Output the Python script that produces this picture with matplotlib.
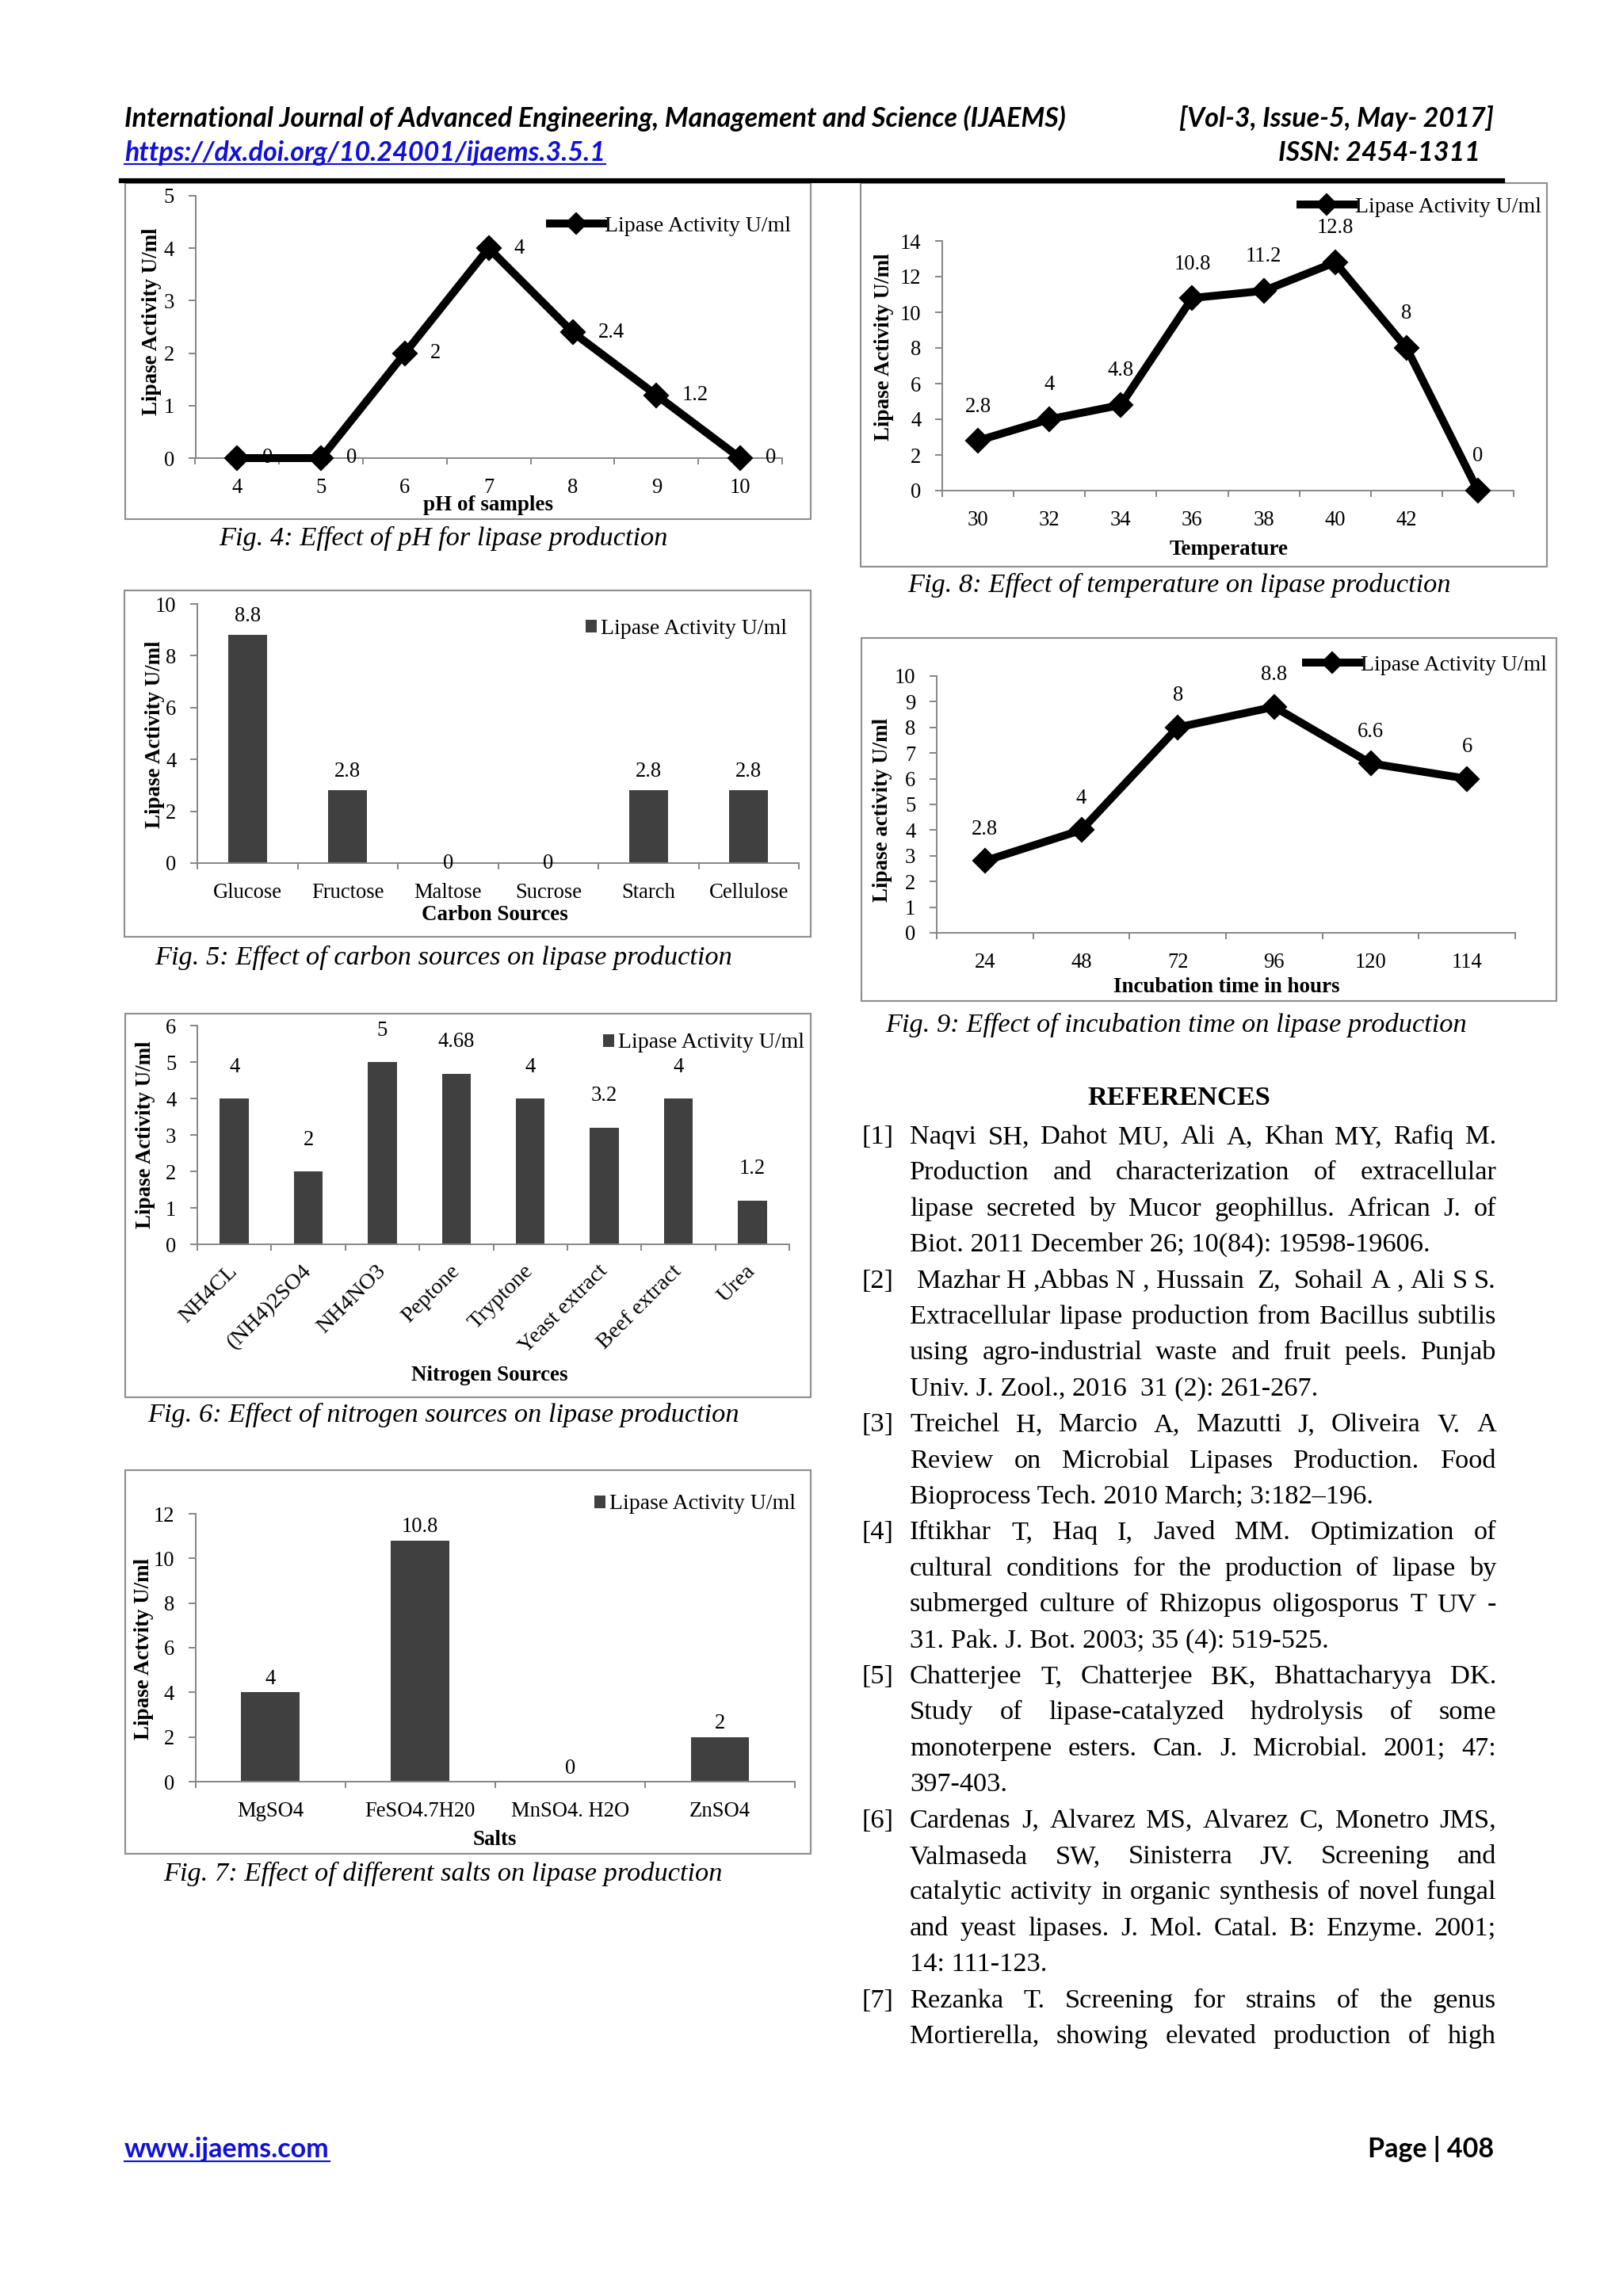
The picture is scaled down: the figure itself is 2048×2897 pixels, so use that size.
import numpy as np
import matplotlib
matplotlib.use("Agg")
import matplotlib.pyplot as plt
from matplotlib.lines import Line2D
from matplotlib.patches import Rectangle
from matplotlib.ticker import FuncFormatter

W, H, DPI = 2048, 2897, 256

# ---- chart data ----
SERIES = "Lipase Activity U/ml"

PH_LEVELS = ["4", "5", "6", "7", "8", "9", "10"]
PH_ACTIVITY = [0, 0, 2, 4, 2.4, 1.2, 0]

CARBON_SOURCES = ["Glucose", "Fructose", "Maltose", "Sucrose", "Starch", "Cellulose"]
CARBON_ACTIVITY = [8.8, 2.8, 0, 0, 2.8, 2.8]

NITROGEN_SOURCES = ["NH4CL", "(NH4)2SO4", "NH4NO3", "Peptone", "Tryptone",
                    "Yeast extract", "Beef extract", "Urea"]
NITROGEN_ACTIVITY = [4, 2, 5, 4.68, 4, 3.2, 4, 1.2]

SALTS = ["MgSO4", "FeSO4.7H20", "MnSO4. H2O", "ZnSO4"]
SALT_ACTIVITY = [4, 10.8, 0, 2]

TEMPERATURES = ["30", "32", "34", "36", "38", "40", "42", ""]
TEMP_ACTIVITY = [2.8, 4, 4.8, 10.8, 11.2, 12.8, 8, 0]

HOURS = ["24", "48", "72", "96", "120", "114"]
HOURS_ACTIVITY = [2.8, 4, 8, 8.8, 6.6, 6]

# ---- page text ----
REFERENCES = [
    ("[1]", ["Naqvi SH, Dahot MU, Ali A, Khan MY, Rafiq M.",
             "Production and characterization of extracellular",
             "lipase secreted by Mucor geophillus. African J. of",
             "Biot. 2011 December 26; 10(84): 19598-19606."]),
    ("[2]", [" Mazhar H ,Abbas N , Hussain  Z,  Sohail A , Ali S S.",
             "Extracellular lipase production from Bacillus subtilis",
             "using agro-industrial waste and fruit peels. Punjab",
             "Univ. J. Zool., 2016  31 (2): 261-267."]),
    ("[3]", ["Treichel H, Marcio A, Mazutti J, Oliveira V. A",
             "Review on Microbial Lipases Production. Food",
             "Bioprocess Tech. 2010 March; 3:182\u2013196."]),
    ("[4]", ["Iftikhar T, Haq I, Javed MM. Optimization of",
             "cultural conditions for the production of lipase by",
             "submerged culture of Rhizopus oligosporus T UV -",
             "31. Pak. J. Bot. 2003; 35 (4): 519-525."]),
    ("[5]", ["Chatterjee T, Chatterjee BK, Bhattacharyya DK.",
             "Study of lipase-catalyzed hydrolysis of some",
             "monoterpene esters. Can. J. Microbial. 2001; 47:",
             "397-403."]),
    ("[6]", ["Cardenas J, Alvarez MS, Alvarez C, Monetro JMS,",
             "Valmaseda SW, Sinisterra JV. Screening and",
             "catalytic activity in organic synthesis of novel fungal",
             "and yeast lipases. J. Mol. Catal. B: Enzyme. 2001;",
             "14: 111-123."]),
    ("[7]", ["Rezanka T. Screening for strains of the genus",
             "Mortierella, showing elevated production of high"]),
]
LAST_LINE_OPEN = True  # the 7th reference continues on the next page

AXIS_GRAY = "#868686"
BOX_GRAY = "#8f8f8f"
BAR_COLOR = "#404040"
LINK_BLUE = "#1010d8"
SANS = ["Lato", "DejaVu Sans"]
SERIF = ["Liberation Serif", "DejaVu Serif"]
HEAD = 9.55

plt.rcParams["font.family"] = SERIF

fig = plt.figure(figsize=(W / DPI, H / DPI), dpi=DPI)
renderer = fig.canvas.get_renderer()


def fx(x):
    return x / W


def fy(y):
    return 1 - y / H


def px_axes(left, right, top, bottom):
    ax = fig.add_axes([fx(left), fy(bottom), (right - left) / W, (bottom - top) / H])
    ax.patch.set_alpha(0)
    return ax


def frame(left, top, right, bottom):
    fig.add_artist(Rectangle((fx(left), fy(bottom)), (right - left) / W, (bottom - top) / H,
                             transform=fig.transFigure, fill=False,
                             edgecolor=BOX_GRAY, lw=0.6))


def category_axes(ax, labels, ymax, ystep, rot=0, xsize=7.5, xpad=6.9):
    n = len(labels)
    ax.set_xlim(-0.5, n - 0.5)
    ax.set_ylim(0, ymax)
    ax.set_yticks(np.arange(0, ymax + 0.001, ystep))
    ax.yaxis.set_major_formatter(FuncFormatter(lambda v, p: f"{v:g}"))
    ax.set_xticks(np.arange(n + 1) - 0.5)
    ax.set_xticklabels([])
    ax.set_xticks(np.arange(n), minor=True)
    if rot:
        ax.set_xticklabels(labels, minor=True, rotation=rot, ha="right",
                           va="center", rotation_mode="anchor")
    else:
        ax.set_xticklabels(labels, minor=True)
    ax.tick_params(axis="x", which="major", length=2.3, width=0.55,
                   color=AXIS_GRAY, direction="out")
    ax.tick_params(axis="x", which="minor", length=0, pad=xpad, labelsize=xsize)
    ax.tick_params(axis="y", length=2.5, width=0.55, color=AXIS_GRAY,
                   pad=5, labelsize=7.5)
    for s in ["top", "right"]:
        ax.spines[s].set_visible(False)
    for s in ["left", "bottom"]:
        ax.spines[s].set_color(AXIS_GRAY)
        ax.spines[s].set_linewidth(0.55)


def axis_titles(ax, ylabel, ypos, xlabel, xpos):
    ax.set_ylabel(ylabel, fontsize=7.6, fontweight="bold")
    ax.yaxis.set_label_coords(fx(ypos[0]), fy(ypos[1]), transform=fig.transFigure)
    ax.yaxis.label.set_va("center")
    ax.set_xlabel(xlabel, fontsize=7.6, fontweight="bold")
    ax.xaxis.set_label_coords(fx(xpos[0]), fy(xpos[1]), transform=fig.transFigure)
    ax.xaxis.label.set_va("center")


def line_series(ax, values, dx, dy, ha):
    x = np.arange(len(values))
    ax.plot(x, values, color="black", lw=2.8, marker="D", ms=5.6,
            label=SERIES, clip_on=False, zorder=3)
    for xi, v in zip(x, values):
        ax.annotate(f"{v:g}", (xi, v), xytext=(dx, dy), textcoords="offset pixels",
                    ha=ha, va="center", fontsize=7.5)


def bar_series(ax, values, dy, zero_dy):
    x = np.arange(len(values))
    ax.bar(x, values, width=0.39, color=BAR_COLOR, label=SERIES, zorder=2)
    for xi, v in zip(x, values):
        ax.annotate(f"{v:g}", (xi, v), xytext=(0, dy if v else zero_dy),
                    textcoords="offset pixels", ha="center", va="center",
                    fontsize=7.5, annotation_clip=False)


def legend_at(ax, x, y, kind):
    if kind == "line":
        opts = dict(handlelength=2.4, handletextpad=0.1, markerscale=0.85)
    else:
        opts = dict(handlelength=0.5, handleheight=0.5, handletextpad=0.2)
    ax.legend(loc="center left", bbox_to_anchor=(fx(x), fy(y)),
              bbox_transform=fig.transFigure, frameon=False, borderpad=0,
              borderaxespad=0, fontsize=7.8, **opts)


def caption(x, y, text):
    fig.text(fx(x), fy(y + 10), text, family=SERIF, fontsize=9.67,
             style="italic", va="baseline")


# ---- header / footer ----
fig.text(fx(157), fy(160), "International Journal of Advanced Engineering, Management and Science (IJAEMS)",
         family=SANS, fontsize=HEAD, fontweight="bold", style="italic", va="baseline")
fig.text(fx(1885), fy(160), "[Vol-3, Issue-5, May- 2017]", family=SANS, fontsize=HEAD,
         fontweight="bold", style="italic", va="baseline", ha="right")
url = fig.text(fx(157), fy(203), "https://dx.doi.org/10.24001/ijaems.3.5.1", family=SANS,
               fontsize=HEAD, fontweight="bold", style="italic", va="baseline", color=LINK_BLUE)
fig.text(fx(1868), fy(203), "ISSN: 2454-1311", family=SANS, fontsize=HEAD,
         fontweight="bold", style="italic", va="baseline", ha="right")
fig.add_artist(Line2D([fx(153), fx(1896)], [fy(228), fy(228)], transform=fig.transFigure,
                      color="black", lw=1.75))

site = fig.text(fx(157), fy(2722), "www.ijaems.com", family=SANS, fontsize=HEAD,
                fontweight="bold", va="baseline", color=LINK_BLUE)
fig.text(fx(1885), fy(2722), "Page | 408", family=SANS, fontsize=HEAD,
         fontweight="bold", va="baseline", ha="right")

for t, uy in [(url, 207), (site, 2727)]:
    bb = t.get_window_extent(renderer)
    fig.add_artist(Line2D([bb.x0 / W, bb.x1 / W], [fy(uy), fy(uy)],
                          transform=fig.transFigure, color=LINK_BLUE, lw=0.6))

# ---- Fig. 4: pH ----
frame(158, 231, 1023, 655)
ax = px_axes(246.5, 987, 247, 578)
category_axes(ax, PH_LEVELS, 5, 1)
line_series(ax, PH_ACTIVITY, 32, 0, "left")
axis_titles(ax, "Lipase Activity U/ml", (192, 406), "pH of samples", (616, 637))
legend_at(ax, 694, 285, "line")
caption(276, 678, "Fig. 4: Effect of pH for lipase production")

# ---- Fig. 8: temperature ----
frame(1086, 231, 1952, 715)
ax = px_axes(1189, 1910, 304, 619)
category_axes(ax, TEMPERATURES, 14, 2)
line_series(ax, TEMP_ACTIVITY, 0, 43, "center")
axis_titles(ax, "Lipase Activity U/ml", (1116, 438), "Temperature", (1551, 693))
legend_at(ax, 1641, 261, "line")
caption(1145, 737, "Fig. 8: Effect of temperature on lipase production")

# ---- Fig. 5: carbon sources ----
frame(157, 745, 1023, 1182)
ax = px_axes(249, 1008, 762, 1089)
category_axes(ax, CARBON_SOURCES, 10, 2)
bar_series(ax, CARBON_ACTIVITY, 24, 0)
axis_titles(ax, "Lipase Activity U/ml", (195, 927), "Carbon Sources", (624, 1155))
legend_at(ax, 739, 793, "bar")
caption(195, 1207, "Fig. 5: Effect of carbon sources on lipase production")

# ---- Fig. 9: incubation time ----
frame(1087, 805, 1964, 1263)
ax = px_axes(1182, 1912, 853, 1177)
category_axes(ax, HOURS, 10, 1)
line_series(ax, HOURS_ACTIVITY, 0, 40, "center")
axis_titles(ax, "Lipase activity U/ml", (1114, 1022), "Incubation time in hours", (1548, 1245))
legend_at(ax, 1648, 839, "line")
caption(1117, 1292, "Fig. 9: Effect of incubation time on lipase production")

# ---- Fig. 6: nitrogen sources ----
frame(158, 1279, 1023, 1763)
ax = px_axes(249, 996, 1294, 1570)
category_axes(ax, NITROGEN_SOURCES, 6, 1, rot=45, xsize=8.0, xpad=8.5)
bar_series(ax, NITROGEN_ACTIVITY, 40, 40)
axis_titles(ax, "Lipase Activity U/ml", (184, 1432), "Nitrogen Sources", (618, 1736))
legend_at(ax, 761, 1316, "bar")
caption(186, 1784, "Fig. 6: Effect of nitrogen sources on lipase production")

# ---- Fig. 7: salts ----
frame(158, 1855, 1023, 2339)
ax = px_axes(246.5, 1003, 1910, 2248)
category_axes(ax, SALTS, 12, 2)
bar_series(ax, SALT_ACTIVITY, 17, 16)
axis_titles(ax, "Lipase Actvity U/ml", (181, 2080), "Salts", (624, 2321))
legend_at(ax, 750, 1898, "bar")
caption(206, 2363, "Fig. 7: Effect of different salts on lipase production")

# ---- references column ----
BODY = 9.67
fig.text(fx(1488), fy(1383 + 11), "REFERENCES", family=SERIF, fontsize=BODY,
         fontweight="bold", ha="center", va="baseline")

probe_a = fig.text(0, 0, "a a", family=SERIF, fontsize=BODY)
probe_b = fig.text(0, 0, "aa", family=SERIF, fontsize=BODY)
SPACE = probe_a.get_window_extent(renderer).width - probe_b.get_window_extent(renderer).width
probe_a.remove()
probe_b.remove()


def put_line(text, x0, x1, base, justify):
    indent = 0
    if text.startswith(" "):
        indent = SPACE
        text = text[1:]
    if not justify:
        fig.text(fx(x0 + indent), fy(base), text, family=SERIF, fontsize=BODY, va="baseline")
        return
    words = text.split(" ")
    arts, widths = [], []
    for w in words:
        if w:
            t = fig.text(0, 0, w, family=SERIF, fontsize=BODY, va="baseline")
            arts.append(t)
            widths.append(t.get_window_extent(renderer).width)
        else:
            arts.append(None)
            widths.append(0.0)
    gap = (x1 - x0 - indent - sum(widths)) / max(len(words) - 1, 1)
    x = x0 + indent
    for t, w in zip(arts, widths):
        if t is not None:
            t.set_position((fx(x), fy(base)))
        x += w + gap


LINE_STEP = 45.4
y = 1432
for k, (num, lines) in enumerate(REFERENCES):
    fig.text(fx(1088), fy(y + 11), num, family=SERIF, fontsize=BODY, va="baseline")
    for i, line in enumerate(lines):
        last = i == len(lines) - 1
        justify = (not last) or (k == len(REFERENCES) - 1 and LAST_LINE_OPEN)
        put_line(line, 1148, 1888, y + 11, justify)
        y += LINE_STEP

fig.savefig("out.png", dpi=DPI, facecolor="white")
